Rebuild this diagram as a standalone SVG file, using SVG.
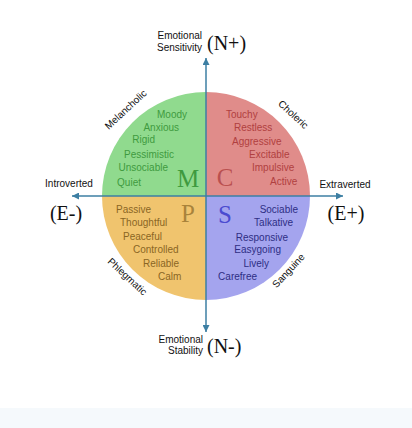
<svg xmlns="http://www.w3.org/2000/svg" width="412" height="428" viewBox="0 0 412 428">
<defs>
<style>
.t{font-family:"Liberation Sans",Arial,sans-serif;font-size:10px}
.k{font-family:"Liberation Sans",Arial,sans-serif;font-size:10px;fill:#111}
.g{fill:#3f9a3f}
.r{fill:#b04040}
.o{fill:#8a6624}
.b{fill:#2e2e84}
.big{font-family:"Liberation Serif","Times New Roman",serif;font-size:25px}
.pm{font-family:"Liberation Serif","Times New Roman",serif;font-size:20px;fill:#111}
.ax{stroke:#3d7fa3;stroke-width:1.5;fill:none}
</style>
<marker id="ah" viewBox="0 0 10 10" refX="10" refY="5" markerWidth="7" markerHeight="7" orient="auto" markerUnits="userSpaceOnUse">
<path d="M0,0 L10,5 L0,10 z" fill="#3d7fa3"/>
</marker>
</defs>
<rect width="412" height="428" fill="#fff"/>
<rect x="0" y="408" width="412" height="20" fill="#f5f9fc"/>
<g id="melancholic">
<path d="M206,196 L102,196 A104,104 0 0 1 206,92 z" fill="#90da8e"/>
<text class="k" transform="translate(128,112) rotate(-43)" text-anchor="middle">Melancholic</text>
<g class="t g" text-anchor="end">
<text x="187" y="118">Moody</text>
<text x="179" y="131">Anxious</text>
<text x="155" y="143">Rigid</text>
<text x="174" y="158">Pessimistic</text>
<text x="168" y="171">Unsociable</text>
<text x="141" y="186">Quiet</text>
</g>
<text class="big g" x="188" y="187" text-anchor="middle">M</text>
</g>
<g id="choleric">
<path d="M206,196 L206,92 A104,104 0 0 1 310,196 z" fill="#e08c8a"/>
<text class="k" transform="translate(291,117) rotate(43)" text-anchor="middle">Choleric</text>
<g class="t r">
<text x="226" y="118">Touchy</text>
<text x="234" y="131">Restless</text>
<text x="232" y="145">Aggressive</text>
<text x="249" y="158">Excitable</text>
<text x="252" y="171">Impulsive</text>
<text x="270" y="185">Active</text>
</g>
<text class="big r" x="225" y="186" text-anchor="middle" fill-opacity="0.8">C</text>
</g>
<g id="phlegmatic">
<path d="M206,196 L206,300 A104,104 0 0 1 102,196 z" fill="#f0c46e"/>
<text class="k" transform="translate(125,279) rotate(43)" text-anchor="middle">Phlegmatic</text>
<g class="t o">
<text x="116" y="213">Passive</text>
<text x="120" y="226">Thoughtful</text>
<text x="123" y="240">Peaceful</text>
<text x="133" y="253">Controlled</text>
<text x="143" y="267">Reliable</text>
<text x="158" y="280">Calm</text>
</g>
<text class="big o" x="188" y="222" text-anchor="middle" fill-opacity="0.7">P</text>
</g>
<g id="sanguine">
<path d="M206,196 L310,196 A104,104 0 0 1 206,300 z" fill="#a4a4ee"/>
<text class="k" transform="translate(291,273) rotate(-47)" text-anchor="middle">Sanguine</text>
<g class="t b" text-anchor="end">
<text x="298" y="213">Sociable</text>
<text x="293" y="226">Talkative</text>
<text x="288" y="241">Responsive</text>
<text x="281" y="253">Easygoing</text>
<text x="269" y="267">Lively</text>
<text x="257" y="280">Carefree</text>
</g>
<text class="big" x="225" y="223" text-anchor="middle" fill="#4b4bd0">S</text>
</g>
<g id="connectors">
<line class="ax" x1="206" y1="196" x2="206" y2="58" marker-end="url(#ah)"/>
<line class="ax" x1="206" y1="196" x2="206" y2="332" marker-end="url(#ah)"/>
<line class="ax" x1="206" y1="196" x2="72" y2="196" marker-end="url(#ah)"/>
<line class="ax" x1="206" y1="196" x2="343" y2="196" marker-end="url(#ah)"/>
</g>
<g id="n-plus">
<text class="k" x="202" y="39" text-anchor="end">Emotional</text>
<text class="k" x="202" y="51" text-anchor="end">Sensitivity</text>
<text class="pm" x="207" y="50">(N+)</text>
</g>
<g id="n-minus">
<text class="k" x="203" y="343" text-anchor="end">Emotional</text>
<text class="k" x="203" y="354" text-anchor="end">Stability</text>
<text class="pm" x="207" y="353">(N-)</text>
</g>
<g id="e-minus">
<text class="k" x="69" y="187" text-anchor="middle">Introverted</text>
<text class="pm" x="66" y="220" text-anchor="middle">(E-)</text>
</g>
<g id="e-plus">
<text class="k" x="345" y="188" text-anchor="middle">Extraverted</text>
<text class="pm" x="346" y="220" text-anchor="middle">(E+)</text>
</g>
</svg>
